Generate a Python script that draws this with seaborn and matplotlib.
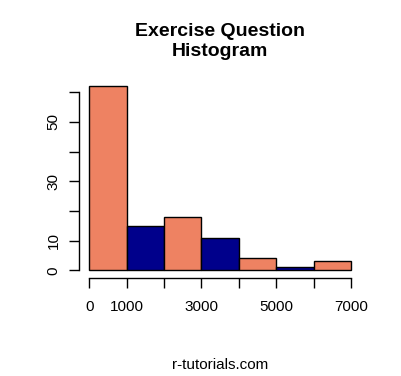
import matplotlib
matplotlib.use("Agg")
import matplotlib.pyplot as plt
import seaborn as sns
import numpy as np

# Data
bin_edges = [0, 1000, 2000, 3000, 4000, 5000, 6000, 7000]
counts = [62, 15, 18, 11, 4, 1, 3]
bar_colors = ["#EE8262", "#00008B", "#EE8262", "#00008B", "#EE8262", "#00008B", "#EE8262"]
x_ticks = [0, 1000, 2000, 3000, 4000, 5000, 6000, 7000]
x_labels = ["0", "1000", "", "3000", "", "5000", "", "7000"]
y_ticks = [0, 10, 20, 30, 40, 50, 60]
y_labels = ["0", "10", "", "30", "", "50", ""]
title = "Exercise Question\nHistogram"
xlabel = "r-tutorials.com"

sns.set_style("white")
plt.rcParams['font.family'] = ['Liberation Sans', 'DejaVu Sans']
plt.rcParams['text.color'] = 'black'
plt.rcParams['axes.labelcolor'] = 'black'
plt.rcParams['xtick.color'] = 'black'
plt.rcParams['ytick.color'] = 'black'

fig = plt.figure(figsize=(4.02, 3.76), dpi=100)
ax = fig.add_axes([0.196, 0.2614, 0.703, 0.5286])

centers = [(bin_edges[i] + bin_edges[i + 1]) / 2 for i in range(len(counts))]
sns.histplot(x=centers, weights=counts, bins=bin_edges, ax=ax,
             edgecolor="black", linewidth=1.0, alpha=1)
for p, c in zip(ax.patches, bar_colors):
    p.set_facecolor(c)

ax.set_xlim(-280, 7280)
ax.set_ylim(-2.48, 64.48)

ax.set_xticks(x_ticks)
ax.set_xticklabels(x_labels, fontsize=11)
ax.set_yticks(y_ticks)
ax.set_yticklabels(y_labels, fontsize=11, rotation=90, va="center")

for s in ["top", "right"]:
    ax.spines[s].set_visible(False)
ax.spines["left"].set_bounds(0, 60)
ax.spines["bottom"].set_bounds(0, 7000)
ax.spines["left"].set_color("black")
ax.spines["bottom"].set_color("black")
ax.spines["left"].set_linewidth(1.0)
ax.spines["bottom"].set_linewidth(1.0)
ax.tick_params(axis="both", direction="out", length=7, width=1.0, color="black",
               left=True, bottom=True)
ax.tick_params(axis="x", pad=9)
ax.tick_params(axis="y", pad=6)

ax.set_ylabel("")
ax.set_xlabel("")
fig.text(0.547, 1 - 365 / 376, xlabel, ha="center", va="center", fontsize=11)
fig.text(0.547, 1 - 41.5 / 376, title, ha="center", va="center", fontsize=14,
         fontweight="bold", linespacing=1.25)

fig.savefig("out.png", dpi=100, facecolor="white")
